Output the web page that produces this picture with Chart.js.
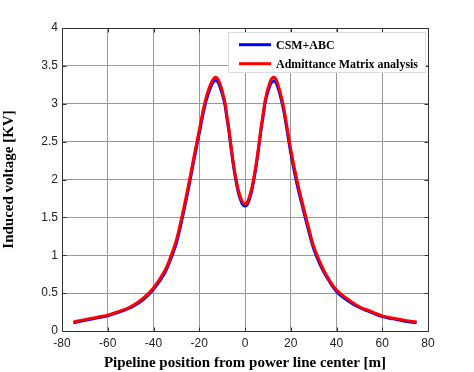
<!DOCTYPE html>
<html>
<head>
<meta charset="utf-8">
<script src="https://cdn.jsdelivr.net/npm/chart.js@4/dist/chart.umd.min.js"></script>
<style>
html,body{margin:0;padding:0;background:#fff;}
#wrap{width:474px;height:372px;position:relative;}
</style>
</head>
<body>
<div id="wrap"><canvas id="c" width="474" height="372"></canvas></div>
<script>
// Pipeline position [m]
const positions = [-75,-70,-65,-60,-55,-50,-45,-40,-35,-32.5,-30,-27.5,-25,-22.5,-20,-17.5,-15,-12.8,-11,-9,-8,-7,-6,-5,-4,-3,-2,-1,0,1,2,3,4,5,6,7,8,9,11,12.6,14,16.5,18,20,22.5,25,27.5,30,32.5,35,40,45,50,55,60,65,70,75];
// Admittance Matrix analysis [KV]
const admittance = [0.12,0.15,0.18,0.21,0.26,0.32,0.42,0.57,0.80,0.98,1.20,1.52,1.88,2.27,2.65,3.02,3.26,3.35,3.27,3.05,2.86,2.66,2.42,2.20,2.02,1.87,1.77,1.70,1.68,1.70,1.78,1.89,2.05,2.23,2.45,2.68,2.88,3.07,3.29,3.35,3.29,3.01,2.76,2.40,2.02,1.70,1.40,1.12,0.93,0.77,0.54,0.42,0.32,0.26,0.20,0.17,0.14,0.12];
// CSM+ABC [KV]
const csmAbc = [0.11,0.14,0.17,0.20,0.25,0.31,0.40,0.55,0.77,0.95,1.16,1.48,1.84,2.23,2.61,2.98,3.22,3.31,3.23,3.02,2.83,2.63,2.39,2.17,1.99,1.84,1.74,1.67,1.65,1.67,1.75,1.86,2.02,2.20,2.42,2.65,2.85,3.04,3.25,3.30,3.25,2.97,2.72,2.35,1.97,1.66,1.36,1.09,0.90,0.75,0.52,0.40,0.31,0.25,0.19,0.16,0.13,0.11];
const xTicks = [-80,-60,-40,-20,0,20,40,60,80];
const yTicks = [0,0.5,1,1.5,2,2.5,3,3.5,4];
const seriesNames = ['CSM+ABC','Admittance Matrix analysis'];
const xTitle = 'Pipeline position from power line center [m]';
const yTitle = 'Induced voltage [KV]';

const toPts = arr => positions.map((x,i)=>({x:x,y:arr[i]}));

const frameAndLegend = {
  id:'frameAndLegend',
  afterDraw(chart){
    const ctx = chart.ctx, a = chart.chartArea;
    const xs = chart.scales.x, ys = chart.scales.y;
    ctx.save();
    ctx.strokeStyle = '#333';
    ctx.lineWidth = 1;
    const L = Math.round(a.left)+0.5, T = Math.round(a.top)+0.5, R = Math.round(a.right)+0.5, B = Math.round(a.bottom)+0.5;
    ctx.strokeRect(L, T, R-L, B-T);
    // inward ticks
    ctx.beginPath();
    xTicks.forEach(v=>{
      const px = Math.round(xs.getPixelForValue(v))+0.5;
      ctx.moveTo(px,T); ctx.lineTo(px,T+4);
      ctx.moveTo(px,B); ctx.lineTo(px,B-4);
    });
    yTicks.forEach(v=>{
      const py = Math.round(ys.getPixelForValue(v))+0.5;
      ctx.moveTo(L,py); ctx.lineTo(L+4,py);
      ctx.moveTo(R,py); ctx.lineTo(R-4,py);
    });
    ctx.stroke();
    // legend box
    const bx = 228, by = 32, bw = 197, bh = 40;
    ctx.fillStyle = '#fff';
    ctx.fillRect(bx, by, bw, bh);
    ctx.strokeStyle = '#ddd';
    ctx.strokeRect(bx+0.5, by+0.5, bw, bh);
    const ds = chart.data.datasets;
    const rows = [44.7, 63.7];
    ctx.font = 'bold 13px "Liberation Serif", "Times New Roman", serif';
    ctx.textBaseline = 'middle';
    const k = 142/ctx.measureText(ds[1].label).width;
    [0,1].forEach((di,r)=>{
      const d = ds[di];
      ctx.strokeStyle = d.borderColor;
      ctx.lineWidth = 3;
      ctx.beginPath();
      ctx.moveTo(239, rows[r]); ctx.lineTo(271, rows[r]);
      ctx.stroke();
      ctx.fillStyle = '#000';
      ctx.save();
      ctx.translate(276, rows[r]+1);
      ctx.scale(k, 1);
      ctx.fillText(d.label, 0, 0);
      ctx.restore();
    });
    ctx.restore();
  }
};

new Chart(document.getElementById('c'), {
  type:'line',
  data:{
    datasets:[
      {label:seriesNames[0], data:toPts(csmAbc), borderColor:'#0000ff', borderWidth:3, pointRadius:0, tension:0.4, order:2},
      {label:seriesNames[1], data:toPts(admittance), borderColor:'#ff0000', borderWidth:3, pointRadius:0, tension:0.4, order:1}
    ]
  },
  options:{
    responsive:false,
    animation:false,
    layout:{padding:{left:0, top:28, right:46, bottom:0}},
    plugins:{legend:{display:false}, tooltip:{enabled:false}},
    scales:{
      x:{
        type:'linear', min:-80, max:80,
        afterBuildTicks(s){ s.ticks = xTicks.map(v=>({value:v})); },
        afterFit(s){ s.height = 41; },
        grid:{color:'#999', lineWidth:1, drawTicks:false},
        border:{color:'#333'},
        ticks:{color:'#222', padding:5, font:{family:'"Liberation Sans", Arial, sans-serif', size:12}, maxRotation:0, callback:v=>String(v)},
        title:{display:true, text:xTitle, color:'#000', padding:{top:3,bottom:0}, font:{family:'"Liberation Serif", "Times New Roman", serif', size:15, weight:'bold'}}
      },
      y:{
        type:'linear', min:0, max:4,
        afterBuildTicks(s){ s.ticks = yTicks.map(v=>({value:v})); },
        afterFit(s){ s.width = 62; },
        grid:{color:'#999', lineWidth:1, drawTicks:false},
        border:{color:'#333'},
        ticks:{color:'#222', padding:4, font:{family:'"Liberation Sans", Arial, sans-serif', size:12}, callback:v=>String(v)},
        title:{display:true, text:yTitle, color:'#000', padding:{top:0,bottom:8}, font:{family:'"Liberation Serif", "Times New Roman", serif', size:15, weight:'bold'}}
      }
    }
  },
  plugins:[frameAndLegend]
});
</script>
</body>
</html>
